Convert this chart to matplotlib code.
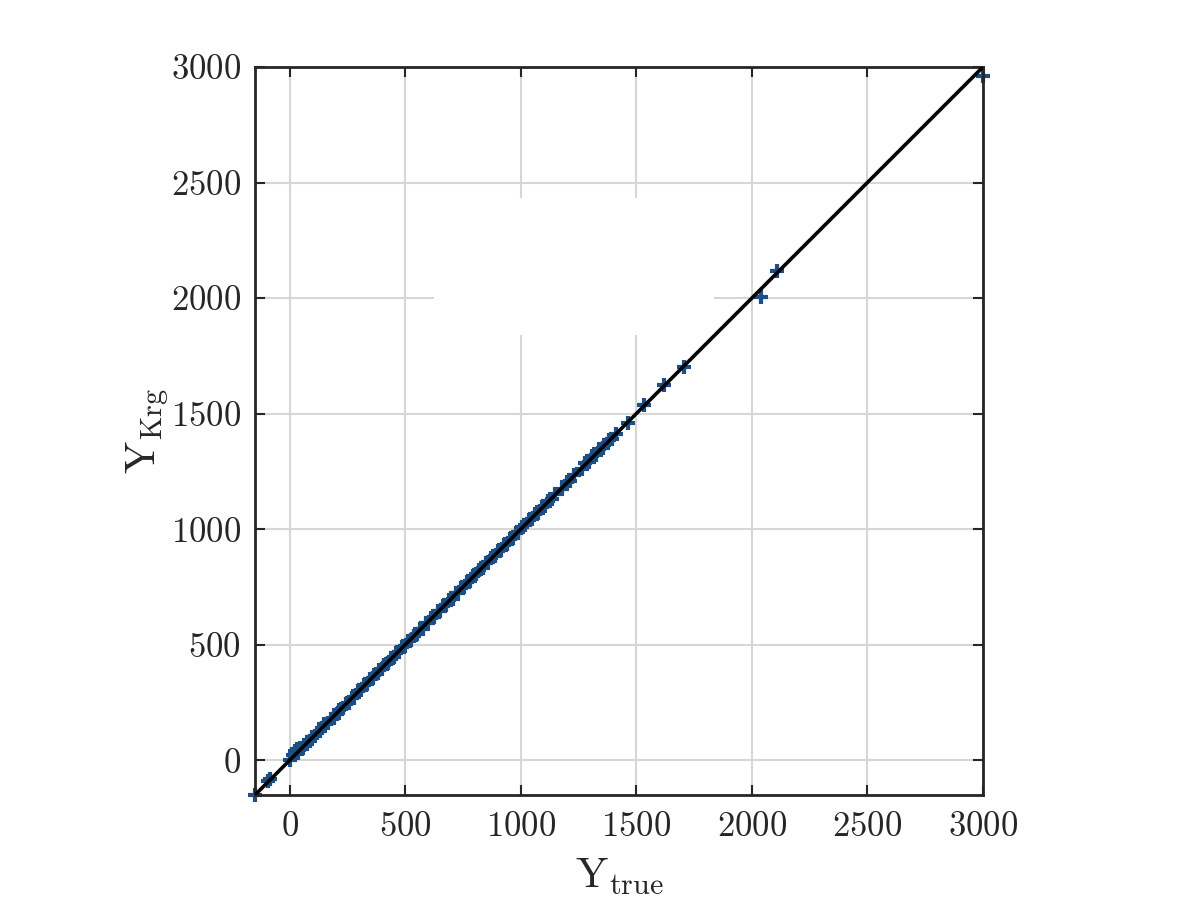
import matplotlib
matplotlib.use('Agg')
import matplotlib.pyplot as plt
from matplotlib.patches import Rectangle

# sample data (true response vs kriging prediction)
y_true = [-150, -95, -85, 0, 15, 22, 30, 38, 45, 55, 62, 75, 88, 96, 110, 118,
          130, 142, 150, 165, 178, 190, 204, 215, 230, 242, 255, 268, 280, 295,
          310, 322, 335, 348, 360, 372, 385, 398, 410, 425, 438, 450, 462, 475,
          488, 500, 512, 525, 538, 550, 563, 575, 588, 600, 612, 625, 640, 652,
          665, 678, 690, 705, 718, 730, 742, 755, 768, 780, 795, 808, 820, 835,
          848, 860, 872, 888, 900, 915, 928, 940, 952, 965, 978, 990, 1005,
          1020, 1035, 1048, 1062, 1075, 1090, 1105, 1120, 1135, 1150, 1180,
          1200, 1215, 1230, 1265, 1280, 1295, 1310, 1325, 1340, 1355, 1380,
          1395, 1410, 1465, 1535, 1620, 1705, 2040, 2110, 3000]
y_krg = [-150, -90, -80, 0, 25, 40, 48, 30, 55, 50, 65, 70, 85, 100, 105, 120,
         125, 140, 155, 160, 180, 185, 200, 218, 225, 245, 250, 270, 276, 298,
         305, 325, 330, 350, 356, 375, 390, 395, 412, 420, 440, 446, 465, 470,
         492, 496, 515, 520, 540, 546, 566, 570, 592, 596, 615, 620, 645, 648,
         668, 674, 694, 700, 722, 726, 746, 750, 772, 776, 798, 804, 824, 830,
         852, 856, 876, 884, 904, 910, 932, 936, 956, 960, 982, 986, 1008,
         1016, 1040, 1044, 1066, 1070, 1094, 1100, 1124, 1130, 1154, 1176,
         1204, 1210, 1234, 1262, 1285, 1290, 1315, 1320, 1345, 1350, 1384,
         1390, 1414, 1460, 1538, 1622, 1702, 2005, 2115, 2960]

x_ticks = [0, 500, 1000, 1500, 2000, 2500, 3000]
y_ticks = [0, 500, 1000, 1500, 2000, 2500, 3000]
lims = [-150, 3000]

plt.rcParams['font.family'] = 'serif'
plt.rcParams['font.serif'] = ['cmr10', 'DejaVu Serif']
plt.rcParams['mathtext.fontset'] = 'cm'
plt.rcParams['axes.formatter.use_mathtext'] = True

fig = plt.figure(figsize=(11.97, 9.0), dpi=100)
ax = fig.add_axes([0.213, 0.1167, 0.6082, 0.8089])

ax.grid(True, color='#d6d6d6', linewidth=1.5, zorder=0)
ax.set_axisbelow(True)

ax.plot(y_true, y_krg, linestyle='none', marker='+', markersize=10,
        markeredgewidth=3, color='#1c4f86', zorder=2, clip_on=False)
ax.plot(lims, lims, color='black', linewidth=2.6, zorder=3)

# empty white box left over from a blank legend
ax.add_patch(Rectangle((0.246, 0.632), 0.384, 0.188, transform=ax.transAxes,
                       facecolor='white', edgecolor='none', zorder=1))

ax.set_xlim(lims)
ax.set_ylim(lims)
ax.set_xticks(x_ticks)
ax.set_yticks(y_ticks)
ax.tick_params(direction='in', length=7, width=1.5, top=True, right=True,
               labelsize=25, colors='#262626')
ax.tick_params(axis='x', pad=12)
ax.tick_params(axis='y', pad=10)
for s in ax.spines.values():
    s.set_linewidth(2)
    s.set_color('#262626')

ax.set_xlabel(r'$\mathrm{Y}_{\mathrm{true}}$', fontsize=31, color='#262626', labelpad=10)
ax.set_ylabel(r'$\mathrm{Y}_{\mathrm{Krg}}$', fontsize=31, color='#262626', labelpad=0)

fig.savefig('out.png', dpi=100, facecolor='white')
